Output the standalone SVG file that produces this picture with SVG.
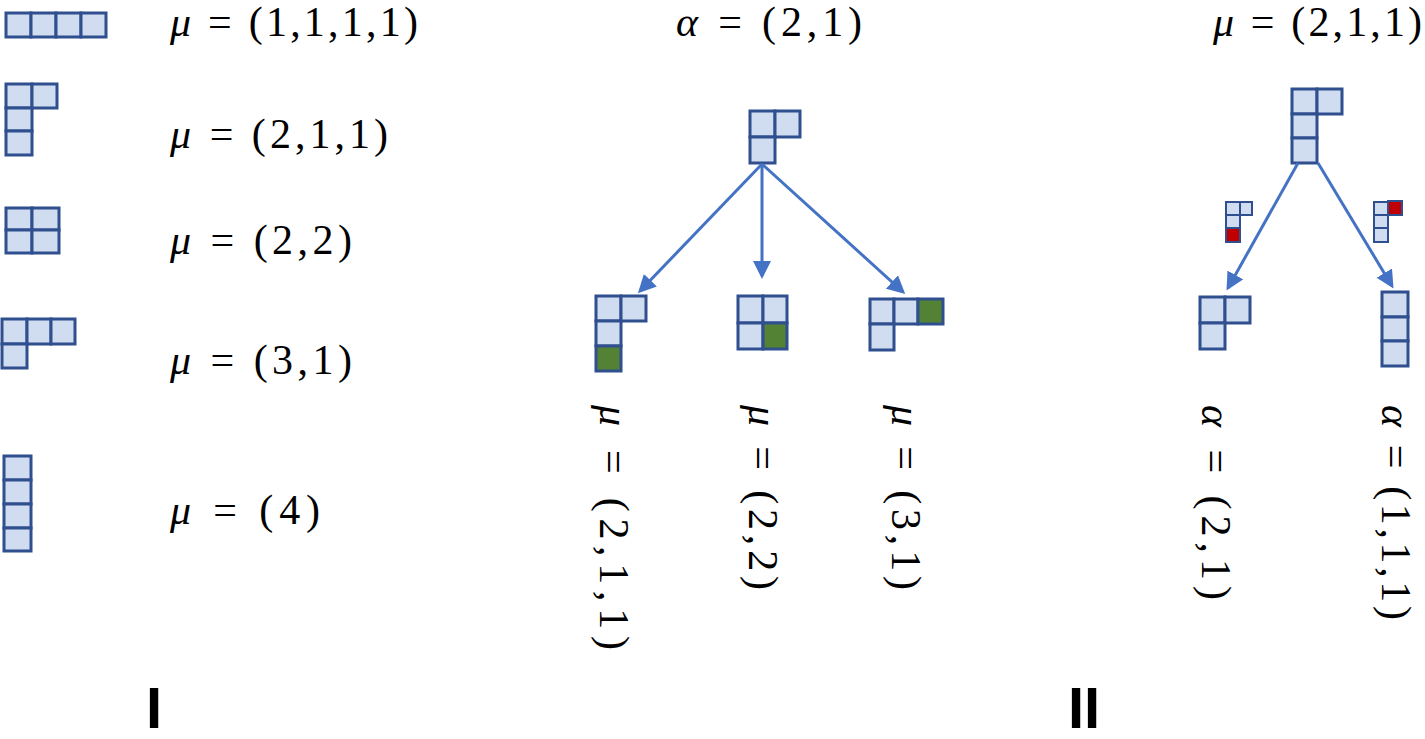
<svg xmlns="http://www.w3.org/2000/svg" width="1425" height="739" viewBox="0 0 1425 739">
<style>
.c{fill:#d0dcf0;stroke:#2f4f8f;stroke-width:3}
.g{fill:#548235;stroke:#2f4f8f;stroke-width:3}
.r{fill:#c00000;stroke:#2f4f8f;stroke-width:2}
.s{fill:#d0dcf0;stroke:#2f4f8f;stroke-width:2}
.t{font-family:"Liberation Serif","DejaVu Serif",serif;font-size:42px;fill:#000}
.a{stroke:#4472c4;stroke-width:3;fill:none;marker-end:url(#ah)}
.b{font-family:"Liberation Sans",Arial,sans-serif;font-weight:bold;font-size:58px;fill:#000}
</style>
<defs><marker id="ah" markerWidth="6" markerHeight="6" refX="5" refY="3" orient="auto" markerUnits="strokeWidth"><path d="M0,0 L6,3 L0,6 Z" fill="#4472c4"/></marker></defs>
<g id="n1"><rect class="c" x="6" y="13" width="25" height="24"/><rect class="c" x="31" y="13" width="25" height="24"/><rect class="c" x="56" y="13" width="25" height="24"/><rect class="c" x="81" y="13" width="25" height="24"/></g>
<g id="n2"><rect class="c" x="6" y="84" width="26" height="24"/><rect class="c" x="32" y="84" width="25" height="24"/><rect class="c" x="6" y="108" width="26" height="23"/><rect class="c" x="6" y="131" width="26" height="24"/></g>
<g id="n3"><rect class="c" x="6" y="208" width="26" height="22"/><rect class="c" x="32" y="208" width="27" height="22"/><rect class="c" x="6" y="230" width="26" height="23"/><rect class="c" x="32" y="230" width="27" height="23"/></g>
<g id="n4"><rect class="c" x="2" y="319" width="25" height="25"/><rect class="c" x="27" y="319" width="24" height="25"/><rect class="c" x="51" y="319" width="24" height="25"/><rect class="c" x="2" y="344" width="25" height="24"/></g>
<g id="n5"><rect class="c" x="4" y="456" width="27" height="24"/><rect class="c" x="4" y="480" width="27" height="24"/><rect class="c" x="4" y="504" width="27" height="24"/><rect class="c" x="4" y="528" width="27" height="23"/></g>
<g id="labels">
<text class="t" x="170" y="36" textLength="248"><tspan font-style="italic">μ</tspan> = (1,1,1,1)</text>
<text class="t" x="170" y="148" textLength="218"><tspan font-style="italic">μ</tspan> = (2,1,1)</text>
<text class="t" x="170" y="254" textLength="182"><tspan font-style="italic">μ</tspan> = (2,2)</text>
<text class="t" x="170" y="374" textLength="182"><tspan font-style="italic">μ</tspan> = (3,1)</text>
<text class="t" x="170" y="524" textLength="150"><tspan font-style="italic">μ</tspan> = (4)</text>
<text class="t" x="676" y="36" textLength="186"><tspan font-style="italic">α</tspan> = (2,1)</text>
<text class="t" x="1213" y="36" textLength="209"><tspan font-style="italic">μ</tspan> = (2,1,1)</text>
<text class="t" x="600" y="405" textLength="245" transform="rotate(90 600 405)"><tspan font-style="italic">μ</tspan> = (2,1,1)</text>
<text class="t" x="749" y="405" textLength="185" transform="rotate(90 749 405)"><tspan font-style="italic">μ</tspan> = (2,2)</text>
<text class="t" x="892" y="405" textLength="185" transform="rotate(90 892 405)"><tspan font-style="italic">μ</tspan> = (3,1)</text>
<text class="t" x="1202" y="405" textLength="195" transform="rotate(90 1202 405)"><tspan font-style="italic">α</tspan> = (2,1)</text>
<text class="t" x="1382" y="405" textLength="215" transform="rotate(90 1382 405)"><tspan font-style="italic">α</tspan> = (1,1,1)</text>
<text class="b" x="146" y="728">I</text>
<text class="b" x="1068" y="728">II</text>
</g>
<g id="c-top"><rect class="c" x="750" y="111" width="25" height="26"/><rect class="c" x="775" y="111" width="25" height="26"/><rect class="c" x="750" y="137" width="25" height="26"/></g>
<g id="c-l"><rect class="c" x="596" y="296" width="25" height="25"/><rect class="c" x="621" y="296" width="25" height="25"/><rect class="c" x="596" y="321" width="25" height="25"/><rect class="g" x="596" y="346" width="25" height="25"/></g>
<g id="c-m"><rect class="c" x="738" y="296" width="25" height="27"/><rect class="c" x="763" y="296" width="24" height="27"/><rect class="c" x="738" y="323" width="25" height="26"/><rect class="g" x="763" y="323" width="24" height="26"/></g>
<g id="c-r"><rect class="c" x="870" y="299" width="24" height="25"/><rect class="c" x="894" y="299" width="24" height="25"/><rect class="g" x="918" y="299" width="25" height="25"/><rect class="c" x="870" y="324" width="24" height="26"/></g>
<g id="r-top"><rect class="c" x="1292" y="89" width="25" height="25"/><rect class="c" x="1317" y="89" width="25" height="25"/><rect class="c" x="1292" y="114" width="25" height="24"/><rect class="c" x="1292" y="138" width="25" height="25"/></g>
<g id="r-sl"><rect class="s" x="1226" y="202" width="14" height="13"/><rect class="s" x="1240" y="202" width="12" height="13"/><rect class="s" x="1226" y="215" width="14" height="13"/><rect class="r" x="1226" y="228" width="14" height="14"/></g>
<g id="r-sr"><rect class="s" x="1374" y="202" width="14" height="13"/><rect class="r" x="1388" y="201" width="14" height="14"/><rect class="s" x="1374" y="215" width="14" height="13"/><rect class="s" x="1374" y="228" width="14" height="14"/></g>
<g id="r-l"><rect class="c" x="1200" y="297" width="25" height="26"/><rect class="c" x="1225" y="297" width="25" height="26"/><rect class="c" x="1200" y="323" width="25" height="26"/></g>
<g id="r-r"><rect class="c" x="1382" y="292" width="26" height="25"/><rect class="c" x="1382" y="317" width="26" height="24"/><rect class="c" x="1382" y="341" width="26" height="25"/></g>
<g id="connectors">
<line class="a" x1="762" y1="164" x2="640" y2="291"/>
<line class="a" x1="762" y1="164" x2="762" y2="276"/>
<line class="a" x1="762" y1="164" x2="903" y2="292"/>
<line class="a" x1="1298" y1="163" x2="1228" y2="288"/>
<line class="a" x1="1318" y1="163" x2="1392" y2="286"/>
</g>
</svg>
